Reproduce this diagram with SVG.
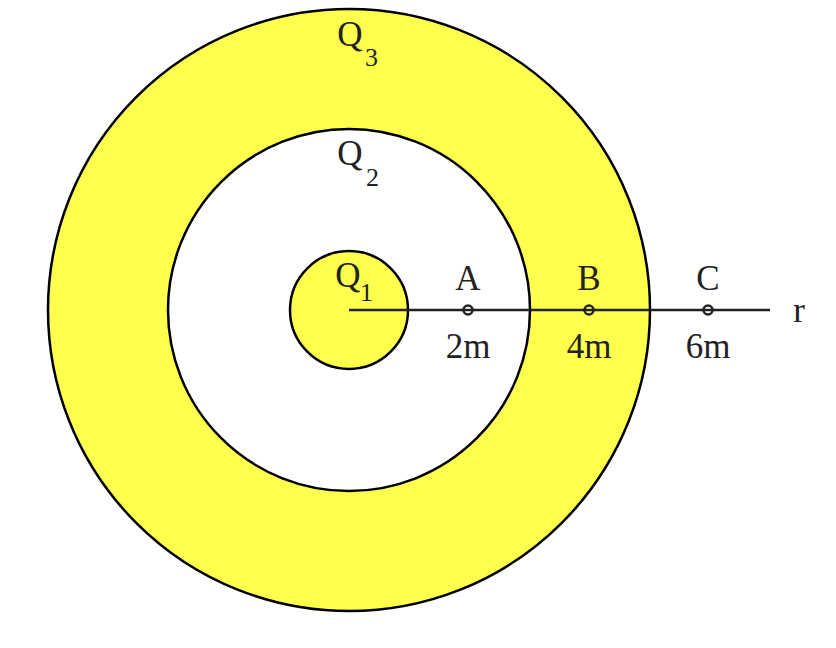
<svg xmlns="http://www.w3.org/2000/svg" width="836" height="648" viewBox="0 0 836 648">
<style>
.s{stroke:#000;stroke-width:2.5}
.t{font-family:"Liberation Serif",serif;font-size:35px;fill:#222;text-anchor:middle}
.sub{font-family:"Liberation Serif",serif;font-size:26px;fill:#222}
.p{fill:none;stroke:#222;stroke-width:2.5}
</style>
<rect width="836" height="648" fill="#fff"/>
<g id="shell3"><circle cx="349" cy="310" r="301" fill="#ffff4d" class="s"/></g>
<g id="shell2"><circle cx="349" cy="310" r="181" fill="#fff" class="s"/></g>
<g id="sphere1"><circle cx="349" cy="310" r="59" fill="#ffff4d" class="s"/></g>
<g id="connectors"><line x1="349" y1="310" x2="770" y2="310" stroke="#222" stroke-width="2.5"/></g>
<g id="A"><circle cx="468" cy="310" r="4.5" class="p"/><text x="468" y="290" class="t">A</text><text x="468" y="358" class="t">2m</text></g>
<g id="B"><circle cx="589" cy="310" r="4.5" class="p"/><text x="589" y="290" class="t">B</text><text x="589" y="358" class="t">4m</text></g>
<g id="C"><circle cx="708" cy="310" r="4.5" class="p"/><text x="708" y="290" class="t">C</text><text x="708" y="358" class="t">6m</text></g>
<g id="r"><text x="799" y="322" class="t">r</text></g>
<g id="Q1"><text x="348" y="287" class="t">Q</text><text x="360" y="301" class="sub">1</text></g>
<g id="Q2"><text x="350" y="165" class="t">Q</text><text x="366" y="186" class="sub">2</text></g>
<g id="Q3"><text x="350" y="46" class="t">Q</text><text x="365" y="66" class="sub">3</text></g>
</svg>
